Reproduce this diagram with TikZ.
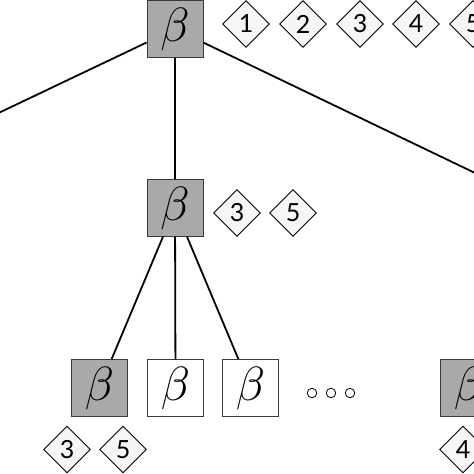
\documentclass[tikz,border=0pt]{standalone}
\usepackage{fix-cm}
\usepackage{fontspec}
\setmainfont{Lato}
\usetikzlibrary{shapes.geometric}
\definecolor{boxgray}{HTML}{A9A9A9}
\definecolor{bordergray}{HTML}{3A3A3A}
\definecolor{tagfill}{HTML}{F6F6F6}
\newcommand{\betasize}{\fontsize{48pt}{50pt}\selectfont}
\newcommand{\tagsize}{\fontsize{25pt}{27pt}\selectfont}
\begin{document}
\begin{tikzpicture}[x=1pt,y=-1pt,
  betabox/.style={draw=bordergray, line width=0.9pt, minimum width=56pt, minimum height=57pt, inner sep=0pt},
  graybox/.style={betabox, fill=boxgray},
  whitebox/.style={betabox, fill=white},
  tag/.style={diamond, draw=black, line width=0.9pt, fill=tagfill, minimum width=47pt, minimum height=47pt, inner sep=0pt},
  edge/.style={line width=1.8pt, black},
  dot/.style={circle, draw=black, line width=0.8pt, minimum size=9.5pt, inner sep=0pt}]
\useasboundingbox (0,0) rectangle (474,474);
\clip (0,0) rectangle (474,474);
% off-canvas connector ends
\coordinate (L) at (-201,208);
\coordinate (R) at (548,208);
% boxes
\node[graybox] (top) at (175,29) {\betasize$\beta$};
\node[graybox] (mid) at (175,208) {\betasize$\beta$};
\node[graybox] (b1) at (99.5,388) {\betasize$\beta$};
\node[whitebox] (b2) at (175.5,388) {\betasize$\beta$};
\node[whitebox] (b3) at (250.5,388) {\betasize$\beta$};
\node[graybox] (bR) at (468.5,388) {\betasize$\beta$};
% connectors
\draw[edge] (top) -- (L);
\draw[edge] (top) -- (R);
\draw[edge] (top) -- (mid);
\draw[edge] (mid) -- (b1);
\draw[edge] (mid) -- (b2);
\draw[edge] (mid) -- (b3);
% tags
\node[tag] (t1) at (246,24) {\tagsize 1};
\node[tag] (t2) at (303,24) {\tagsize 2};
\node[tag] (t3) at (360,24) {\tagsize 3};
\node[tag] (t4) at (416,24) {\tagsize 4};
\node[tag] (t5) at (473,24) {\tagsize 5};
\node[tag] (m3) at (237,213) {\tagsize 3};
\node[tag] (m5) at (293,213) {\tagsize 5};
\node[tag] (c3) at (67,449.5) {\tagsize 3};
\node[tag] (c5) at (123,449.5) {\tagsize 5};
\node[tag] (c4) at (463,449.5) {\tagsize 4};
% ellipsis dots
\node[dot] (d1) at (312,393) {};
\node[dot] (d2) at (331,393) {};
\node[dot] (d3) at (350,393) {};
\end{tikzpicture}
\end{document}
